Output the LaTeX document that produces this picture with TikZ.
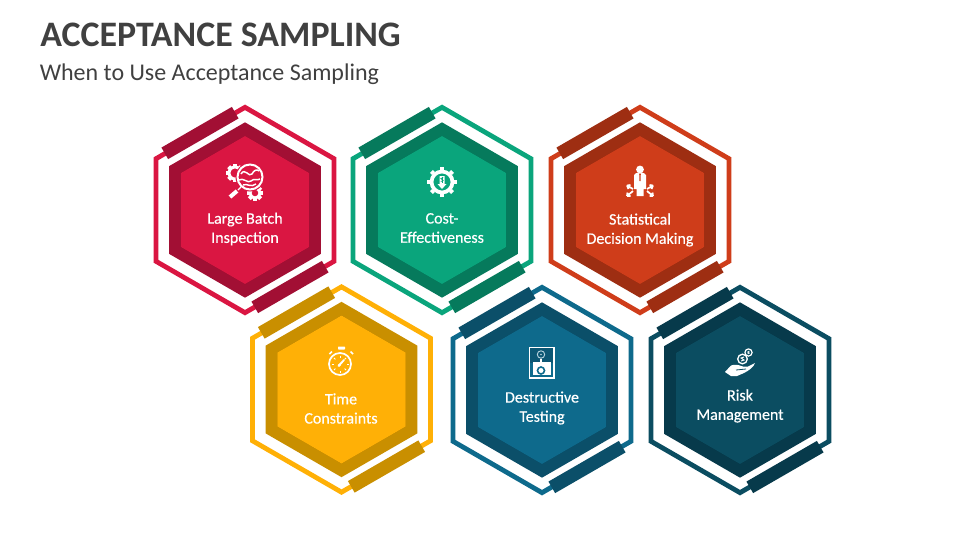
\documentclass[tikz,border=0pt]{standalone}
\usepackage{fontspec}
\setmainfont{Carlito}
\usetikzlibrary{shapes.geometric,shadows}

\definecolor{reda}{HTML}{DA1642}
\definecolor{redb}{HTML}{A20F34}
\definecolor{greena}{HTML}{0AA57C}
\definecolor{greenb}{HTML}{067A5C}
\definecolor{orangea}{HTML}{CF3D1A}
\definecolor{orangeb}{HTML}{9E2E12}
\definecolor{yellowa}{HTML}{FFB006}
\definecolor{yellowb}{HTML}{C98F00}
\definecolor{bluea}{HTML}{0E6A8C}
\definecolor{blueb}{HTML}{0B4F69}
\definecolor{teala}{HTML}{0B4D61}
\definecolor{tealb}{HTML}{073A4B}
\definecolor{titlegray}{HTML}{404040}

\tikzset{
  x=0.75pt,y=-0.75pt,
  hexring/.style={regular polygon,regular polygon sides=6,shape border rotate=30,outer sep=0pt,inner sep=0pt,minimum size=154pt,line width=3.6pt,draw=#1,fill=white},
  hexmid/.style={regular polygon,regular polygon sides=6,shape border rotate=30,outer sep=0pt,inner sep=0pt,minimum size=131.5pt,fill=#1},
  hexin/.style={regular polygon,regular polygon sides=6,shape border rotate=30,outer sep=0pt,inner sep=0pt,minimum size=111pt,fill=#1,general shadow={fill=black,opacity=0.22,scale=1.035}},
  barbox/.style={rectangle,outer sep=0pt,inner sep=0pt,minimum width=61pt,minimum height=10pt,fill=#1},
  hexlabel/.style={text=white,align=center,font=\fontsize{12}{14.4}\selectfont\addfontfeature{FakeBold=0.4}},
  gearteeth/.pic={
    \foreach \a in {0,45,...,315}
      \fill[white,rotate=\a] (-2,-#1-2) rectangle (2,-#1+1);
  },
  batchicon/.pic={
    \path (-10,-3) pic {gearteeth=7};
    \draw[white,line width=2.2pt] (-10,-3) circle (6);
    \path (10,17) pic {gearteeth=6};
    \draw[white,line width=2.2pt] (10,17) circle (5);
    \fill[reda] (5,1) circle (14.5);
    \draw[white,line width=1.5pt] (5,1) circle (12.5);
    \draw[white,line width=1.1pt] (-4,-2) .. controls (0,-9) and (4,2) .. (7,-2) .. controls (9,-6) and (12,-7) .. (14,-5);
    \draw[white,line width=1.1pt] (-6,4) .. controls (-2,1) and (3,8) .. (6,5) .. controls (9,2) and (12,5) .. (15,3);
    \draw[white,line width=1.1pt] (-2,9) .. controls (2,7) and (6,12) .. (11,8);
    \draw[white,line width=1pt] (-4,11) -- (-7,14);
    \draw[white,line width=3pt] (-8,15) -- (-15,21);
  },
  costicon/.pic={
    \path (0,0) pic {gearteeth=13};
    \draw[white,line width=2.8pt] (0,0) circle (10.5);
    \fill[white] (-2.5,-6) -- (2.5,-6) -- (2.5,2) -- (4.5,2) -- (0,7) -- (-4.5,2) -- (-2.5,2) -- cycle;
    \draw[greena,line width=0.5pt] (1.2,-4.5) -- (-1.2,-3.5) -- (1.2,-1.5) -- (-1.2,-0.5);
    \draw[greena,line width=0.3pt] (0,-5.5) -- (0,0.5);
  },
  decisionicon/.pic={
    \fill[white] (0,-12.5) circle (3.9);
    \fill[white] (-6,-7) .. controls (-6,-9) and (-3,-9) .. (0,-9) .. controls (3,-9) and (6,-9) .. (6,-7)
      -- (6,7) -- (3.5,7) -- (3.5,14) -- (-3.5,14) -- (-3.5,7) -- (-6,7) -- cycle;
    \fill[orangea] (-0.8,-8.5) -- (0.8,-8.5) -- (0.5,-1) -- (-0.5,-1) -- cycle;
    \draw[white,line width=1.3pt] (-7,7) -- (-13,3.5) (-13,3.5) -- (-9.5,3) (-13,3.5) -- (-11.5,7);
    \draw[white,line width=1.3pt] (-7,9) -- (-13,14) (-13,14) -- (-12.5,10.5) (-13,14) -- (-9.5,14);
    \draw[white,line width=1.3pt] (7,7) -- (13,3.5) (13,3.5) -- (9.5,3) (13,3.5) -- (11.5,7);
    \draw[white,line width=1.3pt] (7,9) -- (13,14) (13,14) -- (12.5,10.5) (13,14) -- (9.5,14);
  },
  watchicon/.pic={
    \draw[white,line width=1.3pt] (-1,0) circle (11);
    \fill[white,rounded corners=0.5pt] (-3,-17.5) rectangle (4,-14.5);
    \draw[white,line width=1.2pt] (-11.5,-10) -- (-9,-12.5) (9.5,-12.5) -- (12,-10);
    \foreach \a in {0,45,...,315}
      \draw[white,line width=0.7pt,shift={(-1,0)},rotate=\a] (0,-8.5) -- (0,-6.5);
    \draw[white,line width=1.4pt,line cap=round] (-2.5,2) -- (3,-4);
    \fill[white] (-1.5,1) circle (1.6);
  },
  deviceicon/.pic={
    \fill[blueb!70!bluea] (-12,-15) rectangle (12,0);
    \draw[white,line width=0.9pt] (-12.5,-15.5) rectangle (12,15);
    \fill[white] (-9,-1.5) rectangle (9,12);
    \draw[white!70!bluea,line width=0.7pt] (-1,-8.5) circle (3.7);
    \fill[white!70!bluea] (-1,-8.5) circle (0.8);
    \draw[white,line width=1.2pt] (-1,-4.5) -- (-1,4);
    \draw[bluea,line width=1.2pt,fill=white] (-1,7.5) circle (3.5);
  },
  handicon/.pic={
    \draw[white,line width=0.9pt,fill=teala] (8.5,-9.5) circle (3.6);
    \draw[white,line width=1pt,fill=teala] (2.5,-3) circle (4.8);
    \draw[white,line width=0.5pt] (9.5,-11) -- (7.5,-10) -- (9.5,-9) -- (7.5,-8);
    \draw[white,line width=0.7pt] (4,-5) -- (1,-4) -- (4,-2) -- (1,-1);
    \fill[white] (-15,10) -- (-9,3.5) .. controls (-5,2) and (-1,3) .. (3,4.5) -- (8,4.5)
      -- (15,1) .. controls (14,5) and (8,9) .. (4,11) -- (-3,14) -- (-9,14) -- cycle;
    \draw[teala,line width=0.6pt] (-4,8) -- (6,7);
  }
}

\begin{document}
\begin{tikzpicture}
    \useasboundingbox (0,0) rectangle (960,540);

    \node[anchor=base west,inner sep=0pt,text=titlegray,font=\fontsize{26.9}{32}\selectfont\bfseries] (title) at (40,46) {ACCEPTANCE SAMPLING};
    \node[anchor=base west,inner sep=0pt,text=titlegray,font=\fontsize{18}{22}\selectfont] (subtitle) at (39.5,80.5) {When to Use Acceptance Sampling};

    % top row
    \node[hexring=reda] (ringa) at (245,210) {};
    \node[hexmid=redb] (mida) at (ringa.center) {};
    \node[hexin=reda] (ina) at (ringa.center) {};
    \node[barbox=redb,rotate=30] (bara) at ([shift={(-45,-77)}]ringa.center) {};
    \node[barbox=redb,rotate=30] (barb) at ([shift={(45,77)}]ringa.center) {};
    \node[hexlabel] (labela) at (245,229) {Large Batch\\Inspection};
    \path (245,176) pic {batchicon};

    \node[hexring=greena] (ringb) at (442,210) {};
    \node[hexmid=greenb] (midb) at (ringb.center) {};
    \node[hexin=greena] (inb) at (ringb.center) {};
    \node[barbox=greenb,rotate=30] (barc) at ([shift={(-45,-77)}]ringb.center) {};
    \node[barbox=greenb,rotate=30] (bard) at ([shift={(45,77)}]ringb.center) {};
    \node[hexlabel] (labelb) at (442,228) {Cost-\\Effectiveness};
    \path (442,182) pic {costicon};

    \node[hexring=orangea] (ringc) at (640,210) {};
    \node[hexmid=orangeb] (midc) at (ringc.center) {};
    \node[hexin=orangea] (inc) at (ringc.center) {};
    \node[barbox=orangeb,rotate=30] (bare) at ([shift={(-45,-77)}]ringc.center) {};
    \node[barbox=orangeb,rotate=30] (barf) at ([shift={(45,77)}]ringc.center) {};
    \node[hexlabel] (labelc) at (640,230) {Statistical\\Decision Making};
    \path (640,182) pic {decisionicon};

    % bottom row
    \node[hexring=yellowa] (ringd) at (341.5,389.5) {};
    \node[hexmid=yellowb] (midd) at (ringd.center) {};
    \node[hexin=yellowa] (ind) at (ringd.center) {};
    \node[barbox=yellowb,rotate=30] (barg) at ([shift={(-45,-77)}]ringd.center) {};
    \node[barbox=yellowb,rotate=30] (barh) at ([shift={(45,77)}]ringd.center) {};
    \node[hexlabel] (labeld) at (341,408.5) {Time\\Constraints};
    \path (341,364) pic {watchicon};

    \node[hexring=bluea] (ringe) at (542,390) {};
    \node[hexmid=blueb] (mide) at (ringe.center) {};
    \node[hexin=bluea] (ine) at (ringe.center) {};
    \node[barbox=blueb,rotate=30] (bari) at ([shift={(-45,-77)}]ringe.center) {};
    \node[barbox=blueb,rotate=30] (barj) at ([shift={(45,77)}]ringe.center) {};
    \node[hexlabel] (labele) at (542,408) {Destructive\\Testing};
    \path (542,363) pic {deviceicon};

    \node[hexring=teala] (ringf) at (740,390) {};
    \node[hexmid=tealb] (midf) at (ringf.center) {};
    \node[hexin=teala] (inf) at (ringf.center) {};
    \node[barbox=tealb,rotate=30] (bark) at ([shift={(-45,-77)}]ringf.center) {};
    \node[barbox=tealb,rotate=30] (barl) at ([shift={(45,77)}]ringf.center) {};
    \node[hexlabel] (labelf) at (740,406) {Risk\\Management};
    \path (740,362) pic {handicon};
\end{tikzpicture}
\end{document}
